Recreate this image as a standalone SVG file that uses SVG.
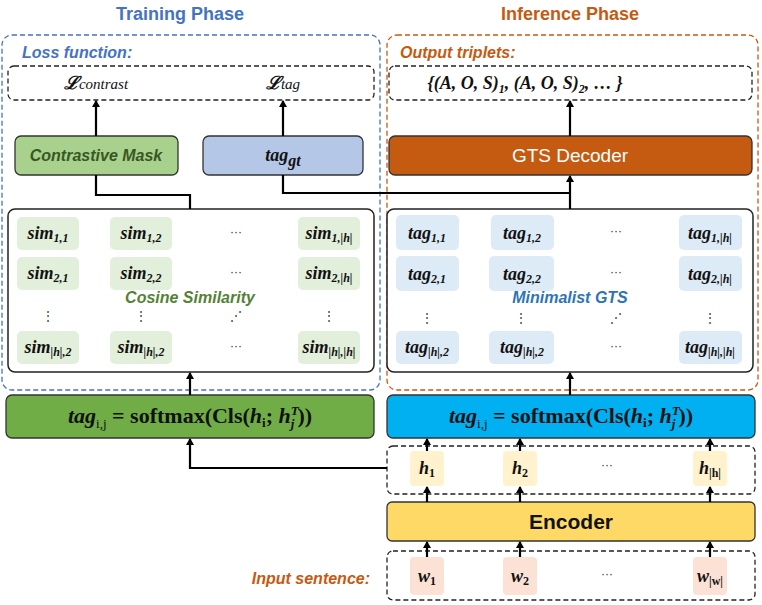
<svg xmlns="http://www.w3.org/2000/svg" width="762" height="605" viewBox="0 0 762 605">
<style>
.t{font-family:"Liberation Serif",serif;font-weight:bold;font-style:italic;font-size:18px;text-anchor:middle;fill:#111}
.s{font-size:12px}
.lab{font-family:"Liberation Sans",sans-serif;font-weight:bold;font-style:italic;font-size:16px}
.dash{fill:none;stroke:#222;stroke-width:1.3;stroke-dasharray:5 3}
.box{stroke:#333;stroke-width:1.3}
.ln{fill:none;stroke:#000;stroke-width:2.2}
.cg{fill:#E2EFDA}.cb{fill:#DDEBF7}.ch{fill:#FFF2CC}.cw{fill:#FBE2D5}
.dots{font-family:"Liberation Sans",sans-serif;font-size:12px;fill:#333;text-anchor:middle}
.f{font-family:"Liberation Serif",serif;font-weight:bold;font-size:22px;text-anchor:middle;fill:#111}
</style>
<defs><marker id="a" markerWidth="8" markerHeight="8" refX="6" refY="4" orient="auto" markerUnits="userSpaceOnUse"><path d="M0,0L7,4L0,8z" fill="#000"/></marker></defs>
<rect width="762" height="605" fill="#fff"/>
<text x="180" y="20" text-anchor="middle" font-family="Liberation Sans,sans-serif" font-weight="bold" font-size="18" fill="#4472C4">Training Phase</text>
<text x="570" y="20" text-anchor="middle" font-family="Liberation Sans,sans-serif" font-weight="bold" font-size="18" fill="#C55A11">Inference Phase</text>
<rect x="2" y="35" width="378" height="355" rx="10" fill="none" stroke="#4472C4" stroke-width="1.3" stroke-dasharray="5 3"/>
<rect x="387" y="35" width="371" height="355" rx="10" fill="none" stroke="#C55A11" stroke-width="1.3" stroke-dasharray="5 3"/>
<text class="lab" x="22" y="58" fill="#4472C4">Loss function:</text>
<text class="lab" x="400" y="58" fill="#C55A11">Output triplets:</text>
<g id="loss"><rect class="dash" x="8" y="66" width="366" height="34" rx="6"/>
<text class="t" x="96" y="89" font-size="20">ℒ<tspan font-size="15" font-weight="normal">contrast</tspan></text>
<text class="t" x="283" y="89" font-size="20">ℒ<tspan font-size="15" font-weight="normal">tag</tspan></text></g>
<g id="output"><rect class="dash" x="389" y="66" width="363" height="34" rx="6"/>
<text class="t" x="525" y="89" font-style="normal">{(<tspan font-style="italic">A</tspan>, <tspan font-style="italic">O</tspan>, <tspan font-style="italic">S</tspan>)<tspan class="s" dy="4">1</tspan><tspan dy="-4">, (</tspan><tspan font-style="italic">A</tspan>, <tspan font-style="italic">O</tspan>, <tspan font-style="italic">S</tspan>)<tspan class="s" dy="4">2</tspan><tspan dy="-4">, … }</tspan></text></g>
<g id="mask"><rect class="box" x="15" y="136" width="163" height="39" rx="6" fill="#A9D18E"/>
<text class="lab" x="96" y="161" text-anchor="middle" fill="#385723">Contrastive Mask</text></g>
<g id="taggt"><rect class="box" x="203" y="136" width="160" height="39" rx="6" fill="#B4C7E7"/>
<text class="t" x="283" y="161" font-size="24">tag<tspan font-size="16" dy="5">gt</tspan></text></g>
<g id="decoder"><rect class="box" x="389" y="136" width="363" height="39" rx="6" fill="#C55A11"/>
<text x="570" y="162" text-anchor="middle" font-family="Liberation Sans,sans-serif" font-size="19" fill="#fff">GTS Decoder</text></g>
<g id="sim"><rect x="8" y="209" width="366" height="163" rx="7" fill="#fff" stroke="#222" stroke-width="1.5"/>
<g class="cg"><rect x="17" y="217" width="62" height="33" rx="5"/><rect x="110" y="217" width="62" height="33" rx="5"/><rect x="298" y="217" width="62" height="33" rx="5"/>
<rect x="17" y="257" width="62" height="33" rx="5"/><rect x="110" y="257" width="62" height="33" rx="5"/><rect x="298" y="257" width="62" height="33" rx="5"/>
<rect x="17" y="331" width="62" height="33" rx="5"/><rect x="110" y="331" width="62" height="33" rx="5"/><rect x="298" y="331" width="62" height="33" rx="5"/></g>
<text class="t" x="48" y="239">sim<tspan class="s" dy="3">1,1</tspan></text><text class="t" x="141" y="239">sim<tspan class="s" dy="3">1,2</tspan></text><text class="dots" x="236" y="236">···</text><text class="t" x="329" y="239">sim<tspan class="s" dy="3">1,|<tspan font-style="italic">h</tspan>|</tspan></text>
<text class="t" x="48" y="279">sim<tspan class="s" dy="3">2,1</tspan></text><text class="t" x="141" y="279">sim<tspan class="s" dy="3">2,2</tspan></text><text class="dots" x="236" y="276">···</text><text class="t" x="329" y="279">sim<tspan class="s" dy="3">2,|<tspan font-style="italic">h</tspan>|</tspan></text>
<text class="dots" x="48" y="320">⋮</text><text class="dots" x="141" y="320">⋮</text><text class="dots" x="236" y="320">⋰</text><text class="dots" x="329" y="320">⋮</text>
<text class="t" x="48" y="353">sim<tspan class="s" dy="3">|h|,2</tspan></text><text class="t" x="141" y="353">sim<tspan class="s" dy="3">|h|,2</tspan></text><text class="dots" x="236" y="350">···</text><text class="t" x="329" y="353">sim<tspan class="s" dy="3">|h|,|h|</tspan></text>
<text class="lab" x="190" y="303" text-anchor="middle" fill="#548235">Cosine Similarity</text></g>
<g id="gts"><rect x="387" y="209" width="366" height="163" rx="7" fill="#fff" stroke="#222" stroke-width="1.5"/>
<g class="cb"><rect x="396" y="215" width="63" height="35" rx="5"/><rect x="491" y="215" width="63" height="35" rx="5"/><rect x="679" y="215" width="63" height="35" rx="5"/>
<rect x="396" y="256" width="63" height="35" rx="5"/><rect x="489" y="256" width="65" height="35" rx="5"/><rect x="679" y="256" width="63" height="35" rx="5"/>
<rect x="396" y="331" width="63" height="33" rx="5"/><rect x="489" y="331" width="65" height="33" rx="5"/><rect x="679" y="331" width="63" height="33" rx="5"/></g>
<text class="t" x="427" y="239">tag<tspan class="s" dy="3">1,1</tspan></text><text class="t" x="522" y="239">tag<tspan class="s" dy="3">1,2</tspan></text><text class="dots" x="616" y="235">···</text><text class="t" x="710" y="239">tag<tspan class="s" dy="3">1,|h|</tspan></text>
<text class="t" x="427" y="280">tag<tspan class="s" dy="3">2,1</tspan></text><text class="t" x="522" y="280">tag<tspan class="s" dy="3">2,2</tspan></text><text class="dots" x="616" y="276">···</text><text class="t" x="710" y="280">tag<tspan class="s" dy="3">2,|h|</tspan></text>
<text class="dots" x="427" y="322">⋮</text><text class="dots" x="521" y="322">⋮</text><text class="dots" x="616" y="322">⋰</text><text class="dots" x="710" y="322">⋮</text>
<text class="t" x="427" y="353">tag<tspan class="s" dy="3">|h|,2</tspan></text><text class="t" x="522" y="353">tag<tspan class="s" dy="3">|h|,2</tspan></text><text class="dots" x="616" y="350">···</text><text class="t" x="710" y="353">tag<tspan class="s" dy="3">|h|,|h|</tspan></text>
<text class="lab" x="570" y="303" text-anchor="middle" fill="#2E75B6">Minimalist GTS</text></g>
<g id="formulaL"><rect class="box" x="6" y="395" width="368" height="43" rx="6" fill="#70AD47"/>
<text class="f" x="190" y="423"><tspan font-style="italic">tag</tspan><tspan font-size="13" font-weight="normal" dy="5">i,j</tspan><tspan dy="-5"> = softmax(Cls(</tspan><tspan font-style="italic">h</tspan><tspan font-size="13" dy="4">i</tspan><tspan dy="-4">; </tspan><tspan font-style="italic">h</tspan><tspan font-size="13" dy="-8" font-style="italic">T</tspan><tspan font-size="13" dx="-8" dy="13" font-style="italic">j</tspan><tspan dx="3" dy="-5">))</tspan></text></g>
<g id="formulaR"><rect class="box" x="387" y="395" width="368" height="43" rx="6" fill="#00B0F0"/>
<text class="f" x="571" y="423"><tspan font-style="italic">tag</tspan><tspan font-size="13" font-weight="normal" dy="5">i,j</tspan><tspan dy="-5"> = softmax(Cls(</tspan><tspan font-style="italic">h</tspan><tspan font-size="13" dy="4">i</tspan><tspan dy="-4">; </tspan><tspan font-style="italic">h</tspan><tspan font-size="13" dy="-8" font-style="italic">T</tspan><tspan font-size="13" dx="-8" dy="13" font-style="italic">j</tspan><tspan dx="3" dy="-5">))</tspan></text></g>
<g id="hrow"><rect class="dash" x="387" y="446" width="368" height="48" rx="6"/>
<g class="ch"><rect x="410" y="451" width="34" height="35" rx="4"/><rect x="503" y="451" width="34" height="35" rx="4"/><rect x="693" y="451" width="34" height="35" rx="4"/></g>
<text class="t" x="427" y="474">h<tspan class="s" font-style="normal" dy="3">1</tspan></text><text class="t" x="520" y="474">h<tspan class="s" font-style="normal" dy="3">2</tspan></text><text class="dots" x="607" y="469">···</text><text class="t" x="710" y="474">h<tspan class="s" font-style="normal" dy="3">|h|</tspan></text></g>
<g id="encoder"><rect class="box" x="387" y="502" width="368" height="39" rx="5" fill="#FFD966"/>
<text x="571" y="529" text-anchor="middle" font-family="Liberation Sans,sans-serif" font-weight="bold" font-size="21" fill="#111">Encoder</text></g>
<g id="input"><rect class="dash" x="387" y="551" width="368" height="49" rx="6"/>
<g class="cw"><rect x="410" y="557" width="34" height="38" rx="4"/><rect x="503" y="557" width="34" height="38" rx="4"/><rect x="693" y="557" width="34" height="38" rx="4"/></g>
<text class="t" x="427" y="582">w<tspan class="s" font-style="normal" dy="3">1</tspan></text><text class="t" x="520" y="582">w<tspan class="s" font-style="normal" dy="3">2</tspan></text><text class="dots" x="607" y="578">···</text><text class="t" x="710" y="582">w<tspan class="s" font-style="normal" dy="3">|w|</tspan></text>
<text class="lab" x="370" y="584" text-anchor="end" fill="#C55A11">Input sentence:</text></g>
<g id="connectors">
<path class="ln" d="M96,136V101" marker-end="url(#a)"/>
<path class="ln" d="M283,136V101" marker-end="url(#a)"/>
<path class="ln" d="M570,136V101" marker-end="url(#a)"/>
<path class="ln" d="M96,175V195H190V209"/>
<path class="ln" d="M283,175V193H570"/>
<path class="ln" d="M570,209V176" marker-end="url(#a)"/>
<path class="ln" d="M190,395V373" marker-end="url(#a)"/>
<path class="ln" d="M570,395V373" marker-end="url(#a)"/>
<path class="ln" d="M387,468H190V439" marker-end="url(#a)"/>
<path class="ln" d="M427,451V439" marker-end="url(#a)"/><path class="ln" d="M520,451V439" marker-end="url(#a)"/><path class="ln" d="M710,451V439" marker-end="url(#a)"/>
<path class="ln" d="M427,502V487" marker-end="url(#a)"/><path class="ln" d="M520,502V487" marker-end="url(#a)"/><path class="ln" d="M710,502V487" marker-end="url(#a)"/>
<path class="ln" d="M427,557V542" marker-end="url(#a)"/><path class="ln" d="M520,557V542" marker-end="url(#a)"/><path class="ln" d="M710,557V542" marker-end="url(#a)"/>
</g>
</svg>
